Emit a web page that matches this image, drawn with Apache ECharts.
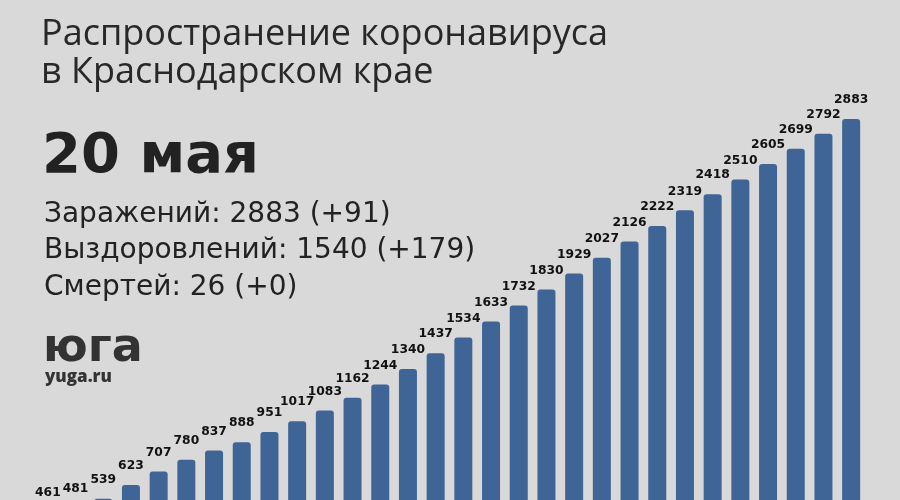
<!DOCTYPE html>
<html><head><meta charset="utf-8">
<script src="https://cdn.jsdelivr.net/npm/echarts@6/dist/echarts.min.js"></script>
<style>html,body{margin:0;padding:0;background:#d9d9d9}#c{width:900px;height:500px}</style>
</head><body><div id="c"></div>
<script>
const days = ['21.04','22.04','23.04','24.04','25.04','26.04','27.04','28.04','29.04','30.04','01.05','02.05','03.05','04.05','05.05','06.05','07.05','08.05','09.05','10.05','11.05','12.05','13.05','14.05','15.05','16.05','17.05','18.05','19.05','20.05'];
const cases = [461,481,539,623,707,780,837,888,951,1017,1083,1162,1244,1340,1437,1534,1633,1732,1830,1929,2027,2126,2222,2319,2418,2510,2605,2699,2792,2883];
const titleLines = ['Распространение коронавируса','в Краснодарском крае'];
const dateText = '20 мая';
const statLines = ['Заражений: 2883 (+91)','Выздоровлений: 1540 (+179)','Смертей: 26 (+0)'];
const logoText = 'юга';
const siteText = 'yuga.ru';

const chart = echarts.init(document.getElementById('c'), null, {renderer:'canvas'});
chart.setOption({
  backgroundColor:'#d9d9d9',
  animation:false,
  grid:{left:34, top:100, width:831, height:486, outerBoundsMode:'none', containLabel:false},
  xAxis:{type:'category', data:days, show:false},
  yAxis:{type:'value', min:0, max:3000, show:false},
  series:[{
    type:'bar', data:cases, barWidth:18, clip:false,
    itemStyle:{color:'#3f6496', borderRadius:[3,3,0,0]},
    label:{show:true, position:'top', distance:13, color:'#111',
      fontFamily:'"DejaVu Sans", Verdana, sans-serif', fontWeight:'bold', fontSize:12.3}
  }],
  graphic:[
    {type:'text', left:41, top:15, style:{text:titleLines.join('\n'), font:'500 36px "Open Sans", sans-serif', lineHeight:38.5, fill:'#282828'}},
    {type:'text', left:42, top:129, style:{text:dateText, font:'700 56px "DejaVu Sans", sans-serif', lineHeight:56, fill:'#222'}},
    {type:'text', left:44, top:196, style:{text:statLines.join('\n'), font:'400 28px "DejaVu Sans", sans-serif', lineHeight:36.8, fill:'#222'}},
    {type:'text', left:43, top:326, style:{text:logoText, font:'900 46px "DejaVu Sans", sans-serif', fill:'#333'}},
    {type:'text', left:45, top:369, style:{text:siteText, font:'800 17px "Open Sans", sans-serif', fill:'#333'}}
  ]
});
</script></body></html>
